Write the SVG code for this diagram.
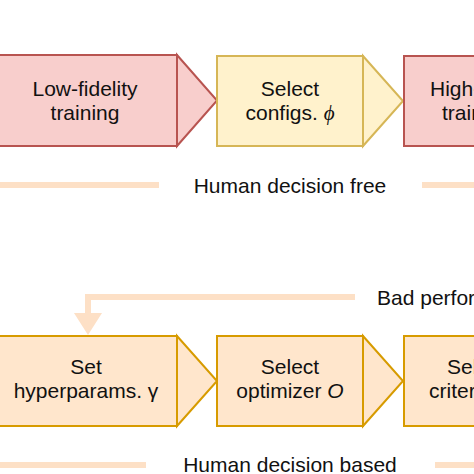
<svg xmlns="http://www.w3.org/2000/svg" width="474" height="474" viewBox="0 0 474 474">
<style>
text{font-family:"Liberation Sans",Arial,Helvetica,sans-serif;font-size:21px;fill:#111;}
.c{text-anchor:middle;}
.red{fill:#f8cecc;stroke:#b85450;stroke-width:2;}
.yel{fill:#fff2cc;stroke:#d6b656;stroke-width:2;}
.org{fill:#ffe6cc;stroke:#d79b00;stroke-width:2;}
.bar{stroke:#fde0c6;stroke-width:6;fill:none;}
.it{font-style:italic;}
.phi{font-family:"Liberation Serif","Times New Roman",serif;font-style:italic;}
</style>
<rect width="474" height="474" fill="#fff"/>
<g id="connectors">
<line class="bar" x1="0" y1="185" x2="159" y2="185"/>
<line class="bar" x1="422" y1="185" x2="474" y2="185"/>
<line class="bar" x1="0" y1="465" x2="146" y2="465"/>
<line class="bar" x1="435" y1="465" x2="474" y2="465"/>
<polyline class="bar" points="355,297 88,297 88,314"/>
<polygon points="74,313 102,313 88,335" fill="#fde0c6"/>
</g>
<g id="lowfi">
<rect class="red" x="-4" y="55" width="181" height="91"/>
<polygon class="red" points="177,55 217,100.5 177,146"/>
<line x1="177" y1="55" x2="177" y2="146" stroke="#b85450" stroke-width="2"/>
<text class="c" x="85" y="96">Low-fidelity</text>
<text class="c" x="85" y="120">training</text>
</g>
<g id="select-configs">
<rect class="yel" x="217" y="56" width="146" height="90"/>
<polygon class="yel" points="363,56 403,101 363,146"/>
<text class="c" x="290" y="96">Select</text>
<text class="c" x="290" y="120">configs. <tspan class="phi">ϕ</tspan></text>
</g>
<g id="highfi">
<rect class="red" x="404" y="56" width="80" height="90"/>
<text x="430" y="96">High-fidelity</text>
<text x="442" y="120">training</text>
</g>
<text id="free-label" class="c" x="290" y="193">Human decision free</text>
<text id="bad-label" x="377" y="305">Bad performance</text>
<g id="set-hyper">
<rect class="org" x="-4" y="336" width="181" height="90"/>
<polygon class="org" points="177,336 217,381 177,426"/>
<text class="c" x="86" y="374">Set</text>
<text class="c" x="86" y="398">hyperparams. γ</text>
</g>
<g id="select-opt">
<rect class="org" x="217" y="336" width="146" height="90"/>
<polygon class="org" points="363,336 403,381 363,426"/>
<text class="c" x="290" y="374">Select</text>
<text class="c" x="290" y="398">optimizer <tspan class="it">O</tspan></text>
</g>
<g id="select-crit">
<rect class="org" x="404" y="336" width="80" height="90"/>
<text x="447" y="374">Select</text>
<text x="429" y="398">criterion</text>
</g>
<text id="based-label" class="c" x="290" y="472">Human decision based</text>
</svg>
